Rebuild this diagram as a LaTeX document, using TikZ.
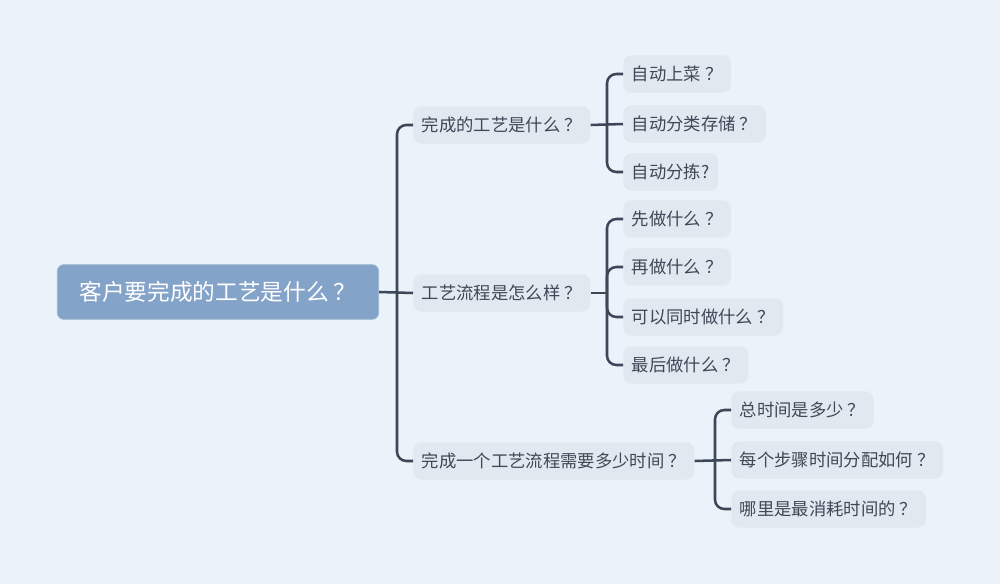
\documentclass[tikz,border=0pt]{standalone}
\usepackage{fontspec}
\usepackage{tikz}
\usetikzlibrary{positioning,calc}
\newfontfamily\cjk{Noto Sans CJK SC}
\newcommand{\qm}{\hspace{0.22em}？}
\definecolor{pagebg}{HTML}{EBF2FA}
\definecolor{rootfill}{HTML}{84A3C9}
\definecolor{rootstroke}{HTML}{9CB5D5}
\definecolor{topicfill}{HTML}{E1E8F0}
\definecolor{topictext}{HTML}{3E4856}
\definecolor{linkgrey}{HTML}{3C4858}
\tikzset{
  topic/.style = {rounded corners=6pt, fill=topicfill, anchor=west,
                  text=topictext, font=\cjk\fontsize{13pt}{15pt}\selectfont,
                  inner xsep=6.5pt, inner ysep=0pt, minimum height=28pt},
  rootnode/.style = {rounded corners=5pt, fill=rootfill, draw=rootstroke,
                  line width=0.6pt, text=white,
                  font=\cjk\fontsize{17pt}{20pt}\selectfont,
                  minimum width=241pt, minimum height=41pt},
  link/.style  = {draw=linkgrey, line width=1.9pt, rounded corners=7pt},
}

\begin{document}
\begin{tikzpicture}[x=0.75pt, y=-0.75pt]
  \fill[pagebg] (0,0) rectangle (1000,584);
  \useasboundingbox (0,0) rectangle (1000,584);

  \node[rootnode] (root) at (218,292) {客户要完成的工艺是什么\qm};

  % --- first level ---
  \node[topic] (craft) at (413,125) {完成的工艺是什么\qm};
  \node[topic] (flow)  at (413,293) {工艺流程是怎么样\qm};
  \node[topic] (time)  at (413,461) {完成一个工艺流程需要多少时间\qm};

  % --- second level ---
  \node[topic] (feed)  at (623,74)  {自动上菜\qm};
  \node[topic] (store) at (623,124) {自动分类存储\qm};
  \node[topic] (sort)  at (623,172) {自动分拣?};

  \node[topic] (first) at (623,219) {先做什么\qm};
  \node[topic] (next)  at (623,267) {再做什么\qm};
  \node[topic] (same)  at (623,317) {可以同时做什么\qm};
  \node[topic] (last)  at (623,365) {最后做什么\qm};

  \node[topic] (total) at (731,410) {总时间是多少\qm};
  \node[topic] (share) at (731,460) {每个步骤时间分配如何\qm};
  \node[topic] (worst) at (731,509) {哪里是最消耗时间的\qm};

  % spines
  \coordinate (s0) at (397,292);
  \coordinate (s1) at (607,125);
  \coordinate (s2) at (607,293);
  \coordinate (s3) at (715,461);

  \draw[link] (root.east) -- (flow.west);
  \draw[link] (s0) |- (craft.west);
  \draw[link] (s0) |- (time.west);

  \draw[link] (craft.east) -- (store.west);
  \draw[link] (s1) |- (feed.west);
  \draw[link] (s1) |- (sort.west);

  \draw[link] (flow.east) -- (s2);
  \draw[link] (s2) |- (first.west);
  \draw[link] (s2) |- (next.west);
  \draw[link] (s2) |- (same.west);
  \draw[link] (s2) |- (last.west);

  \draw[link] (time.east) -- (share.west);
  \draw[link] (s3) |- (total.west);
  \draw[link] (s3) |- (worst.west);
\end{tikzpicture}
\end{document}
